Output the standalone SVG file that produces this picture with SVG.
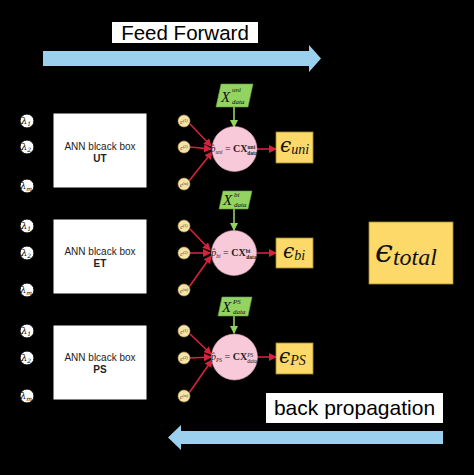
<svg xmlns="http://www.w3.org/2000/svg" width="474" height="475" viewBox="0 0 474 475">
<defs>
<style>
.lam{fill:#fff;stroke:#000;stroke-width:1}
.lamt{font-family:"DejaVu Serif","Liberation Serif",serif;font-style:italic;font-size:10px;fill:#000;text-anchor:middle}
.box{fill:#fff;stroke:#000;stroke-width:1}
.boxt{font-family:"Liberation Sans",Arial,sans-serif;font-size:10px;fill:#222;text-anchor:middle}
.cc{fill:#f6e3a6;stroke:#b8a060;stroke-width:0.6}
.cct{font-family:"Liberation Serif",serif;font-style:italic;font-size:6px;fill:#333;text-anchor:middle}
.pink{fill:#f7c9d9;stroke:#d9a0b6;stroke-width:0.6}
.form{font-family:"Liberation Serif",serif;font-size:10px;fill:#222;text-anchor:middle}
.grn{fill:#93d35f;stroke:#6aa040;stroke-width:0.6}
.xt{font-family:"Liberation Serif",serif;font-style:italic;font-size:15px;fill:#111}
.xs{font-family:"Liberation Serif",serif;font-style:italic;font-size:7px;fill:#111}
.yel{fill:#fcd968;stroke:#a08c2a;stroke-width:0.8}
.et{font-family:"Liberation Serif",serif;font-style:italic;fill:#111}
.eps{font-family:"DejaVu Serif",serif;font-style:italic}
.red{stroke:#d4233b;stroke-width:1.6;fill:none}
.gar{stroke:#93d35f;stroke-width:1.6;fill:none}
.lbl{fill:#fff}
.lblt{font-family:"Liberation Sans",Arial,sans-serif;fill:#000;text-anchor:middle}
.blue{fill:#9bd1ee}
</style>
<marker id="ar" markerWidth="8" markerHeight="8" refX="7" refY="4" orient="auto" markerUnits="userSpaceOnUse">
<path d="M0,0 L8,4 L0,8 z" fill="#d4233b"/>
</marker>
<marker id="ag" markerWidth="8" markerHeight="8" refX="7" refY="4" orient="auto" markerUnits="userSpaceOnUse">
<path d="M0,0 L8,4 L0,8 z" fill="#93d35f"/>
</marker>
</defs>
<rect x="0" y="0" width="474" height="475" fill="#000"/>

<g id="feed-forward">
<rect class="lbl" x="112" y="22" width="146" height="21"/>
<text class="lblt" x="185" y="40" font-size="20.5">Feed Forward</text>
<path class="blue" d="M43,51 H309 V45 L321,58.5 L309,72 V66 H43 z"/>
</g>

<g id="back-propagation">
<rect class="lbl" x="266" y="393" width="177" height="30"/>
<text class="lblt" x="354.5" y="415" font-size="21">back propagation</text>
<path class="blue" d="M443,431 H181 V425 L168,437.5 L181,450 V444 H443 z"/>
</g>

<g id="connectors">
<line class="red" x1="190" y1="124" x2="211" y2="146" marker-end="url(#ar)"/>
<line class="red" x1="190" y1="147" x2="211" y2="149" marker-end="url(#ar)"/>
<line class="red" x1="189" y1="181" x2="212" y2="152" marker-end="url(#ar)"/>
<line class="red" x1="257" y1="149" x2="276" y2="149" marker-end="url(#ar)"/>
<line class="gar" x1="234" y1="107" x2="234" y2="127" marker-end="url(#ag)"/>

<line class="red" x1="190" y1="229" x2="210" y2="250" marker-end="url(#ar)"/>
<line class="red" x1="190" y1="253" x2="210" y2="253" marker-end="url(#ar)"/>
<line class="red" x1="189" y1="287" x2="211" y2="256" marker-end="url(#ar)"/>
<line class="red" x1="257" y1="253" x2="276" y2="253" marker-end="url(#ar)"/>
<line class="gar" x1="234" y1="209" x2="234" y2="230" marker-end="url(#ag)"/>

<line class="red" x1="190" y1="334" x2="211" y2="354" marker-end="url(#ar)"/>
<line class="red" x1="190" y1="358" x2="211" y2="357" marker-end="url(#ar)"/>
<line class="red" x1="189" y1="393" x2="212" y2="360" marker-end="url(#ar)"/>
<line class="red" x1="257" y1="357" x2="276" y2="357" marker-end="url(#ar)"/>
<line class="gar" x1="234" y1="316" x2="234" y2="333" marker-end="url(#ag)"/>
</g>

<g id="row-ut">
<g id="lam-ut">
<circle class="lam" cx="27" cy="121" r="7"/><text class="lamt" x="26" y="124">λ<tspan font-size="6" dy="1.5">1</tspan></text>
<circle class="lam" cx="27" cy="147" r="7"/><text class="lamt" x="26" y="150">λ<tspan font-size="6" dy="1.5">2</tspan></text>
<circle class="lam" cx="27" cy="186" r="7"/><text class="lamt" x="26" y="189">λ<tspan font-size="6" dy="1.5">m</tspan></text>
</g>
<g id="box-ut">
<rect class="box" x="53" y="113" width="94" height="75"/>
<text class="boxt" x="100" y="150">ANN blcack box</text>
<text class="boxt" x="100" y="162" font-weight="bold">UT</text>
</g>
<g id="c-ut">
<circle class="cc" cx="184" cy="121" r="6"/><text class="cct" x="184" y="124">c<tspan font-size="4" dy="-2.5">(1)</tspan></text>
<circle class="cc" cx="184" cy="147" r="6"/><text class="cct" x="184" y="150">c<tspan font-size="4" dy="-2.5">(2)</tspan></text>
<circle class="cc" cx="184" cy="184" r="6"/><text class="cct" x="184" y="187">c<tspan font-size="4" dy="-2.5">(m)</tspan></text>
</g>
<g id="x-uni">
<path class="grn" d="M221,84 H253 L248,107 H216 z"/>
<text class="xt" x="221" y="102">X</text>
<text class="xs" x="232" y="92">uni</text>
<text class="xs" x="232" y="104">data</text>
</g>
<g id="calc-uni">
<circle class="pink" cx="234.5" cy="149" r="22.5"/>
<text class="form" x="234" y="152"><tspan font-style="italic">p̂</tspan><tspan font-size="5.5" font-style="italic" dy="1.5">uni</tspan><tspan dy="-1.5"> = </tspan><tspan font-weight="bold">CX</tspan><tspan font-size="5.5" font-weight="bold" dy="-3.5">uni</tspan><tspan font-size="5.5" font-weight="bold" dx="-8" dy="6">data</tspan></text>
</g>
<g id="eps-uni">
<rect class="yel" x="276" y="132" width="37" height="31"/>
<text class="et" x="280" y="152" style="font-size:14px"><tspan class="eps" style="font-size:20px">ϵ</tspan><tspan dy="2">uni</tspan></text>
</g>
</g>

<g id="row-et">
<g id="lam-et">
<circle class="lam" cx="27" cy="226" r="7"/><text class="lamt" x="26" y="229">λ<tspan font-size="6" dy="1.5">1</tspan></text>
<circle class="lam" cx="27" cy="253" r="7"/><text class="lamt" x="26" y="256">λ<tspan font-size="6" dy="1.5">2</tspan></text>
<circle class="lam" cx="27" cy="290" r="7"/><text class="lamt" x="26" y="293">λ<tspan font-size="6" dy="1.5">m</tspan></text>
</g>
<g id="box-et">
<rect class="box" x="53" y="219" width="94" height="75"/>
<text class="boxt" x="100" y="255">ANN blcack box</text>
<text class="boxt" x="100" y="267" font-weight="bold">ET</text>
</g>
<g id="c-et">
<circle class="cc" cx="184" cy="226" r="6"/><text class="cct" x="184" y="229">c<tspan font-size="4" dy="-2.5">(1)</tspan></text>
<circle class="cc" cx="184" cy="253" r="6"/><text class="cct" x="184" y="256">c<tspan font-size="4" dy="-2.5">(2)</tspan></text>
<circle class="cc" cx="184" cy="290" r="6"/><text class="cct" x="184" y="293">c<tspan font-size="4" dy="-2.5">(m)</tspan></text>
</g>
<g id="x-bi">
<path class="grn" d="M223,191 H252 L248,209 H219 z"/>
<text class="xt" x="223" y="205">X</text>
<text class="xs" x="234" y="197">bi</text>
<text class="xs" x="234" y="207">data</text>
</g>
<g id="calc-bi">
<circle class="pink" cx="234" cy="253" r="22.5"/>
<text class="form" x="234" y="256"><tspan font-style="italic">p̂</tspan><tspan font-size="5.5" font-style="italic" dy="1.5">bi</tspan><tspan dy="-1.5"> = </tspan><tspan font-weight="bold">CX</tspan><tspan font-size="5.5" font-weight="bold" dy="-3.5">bi</tspan><tspan font-size="5.5" font-weight="bold" dx="-4" dy="6">data</tspan></text>
</g>
<g id="eps-bi">
<rect class="yel" x="276" y="238" width="37" height="30"/>
<text class="et" x="283" y="258" style="font-size:14px"><tspan class="eps" style="font-size:20px">ϵ</tspan><tspan dy="2">bi</tspan></text>
</g>
</g>

<g id="row-ps">
<g id="lam-ps">
<circle class="lam" cx="27" cy="331" r="7"/><text class="lamt" x="26" y="334">λ<tspan font-size="6" dy="1.5">1</tspan></text>
<circle class="lam" cx="27" cy="358" r="7"/><text class="lamt" x="26" y="361">λ<tspan font-size="6" dy="1.5">2</tspan></text>
<circle class="lam" cx="27" cy="396" r="7"/><text class="lamt" x="26" y="399">λ<tspan font-size="6" dy="1.5">m</tspan></text>
</g>
<g id="box-ps">
<rect class="box" x="53" y="325" width="94" height="75"/>
<text class="boxt" x="100" y="361">ANN blcack box</text>
<text class="boxt" x="100" y="373" font-weight="bold">PS</text>
</g>
<g id="c-ps">
<circle class="cc" cx="184" cy="331" r="6"/><text class="cct" x="184" y="334">c<tspan font-size="4" dy="-2.5">(1)</tspan></text>
<circle class="cc" cx="184" cy="358" r="6"/><text class="cct" x="184" y="361">c<tspan font-size="4" dy="-2.5">(2)</tspan></text>
<circle class="cc" cx="184" cy="396" r="6"/><text class="cct" x="184" y="399">c<tspan font-size="4" dy="-2.5">(m)</tspan></text>
</g>
<g id="x-ps">
<path class="grn" d="M222,297 H252 L248,316 H218 z"/>
<text class="xt" x="222" y="312">X</text>
<text class="xs" x="233" y="304">PS</text>
<text class="xs" x="233" y="314">data</text>
</g>
<g id="calc-ps">
<circle class="pink" cx="234.5" cy="357" r="23"/>
<text class="form" x="234" y="360"><tspan font-style="italic">p̂</tspan><tspan font-size="5.5" font-style="italic" dy="1.5">PS</tspan><tspan dy="-1.5"> = </tspan><tspan font-weight="bold">CX</tspan><tspan font-size="5.5" font-style="italic" dy="-3.5">PS</tspan><tspan font-size="5.5" font-style="italic" dx="-6" dy="6">data</tspan></text>
</g>
<g id="eps-ps">
<rect class="yel" x="276" y="343" width="37" height="31"/>
<text class="et" x="279" y="363" style="font-size:14px"><tspan class="eps" style="font-size:20px">ϵ</tspan><tspan dy="2">PS</tspan></text>
</g>
</g>

<g id="eps-total">
<rect class="yel" x="369" y="222" width="84" height="62"/>
<text class="et" x="375" y="262" style="font-size:24px"><tspan class="eps" style="font-size:32px">ϵ</tspan><tspan dy="3">total</tspan></text>
</g>
</svg>
